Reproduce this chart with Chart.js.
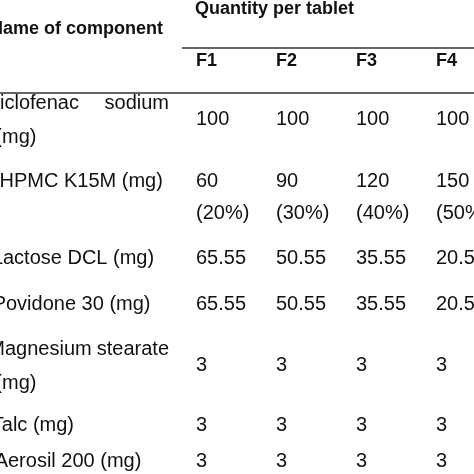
<!DOCTYPE html>
<html>
<head>
<meta charset="utf-8">
<script src="https://cdn.jsdelivr.net/npm/chart.js@4"></script>
<style>
  html, body { margin: 0; padding: 0; background: #fff; }
  #wrap { width: 474px; height: 474px; }
</style>
</head>
<body>
<div id="wrap"><canvas id="tbl"></canvas></div>
<script>
// table data
const formulations = ['F1', 'F2', 'F3', 'F4'];
const components = [
    ['Diclofenac sodium', '(mg)'],
    ['HPMC K15M (mg)'],
    ['Lactose DCL (mg)'],
    ['Povidone 30 (mg)'],
    ['Magnesium stearate', '(mg)'],
    ['Talc (mg)'],
    ['Aerosil 200 (mg)']
];
const F1 = ['100', ['60', '(20%)'], '65.55', '65.55', '3', '3', '3'];
const F2 = ['100', ['90', '(30%)'], '50.55', '50.55', '3', '3', '3'];
const F3 = ['100', ['120', '(40%)'], '35.55', '35.55', '3', '3', '3'];
const F4 = ['100', ['150', '(50%)'], '20.55', '20.55', '3', '3', '3'];

// layout (in 0..474 scale units)
const colX = [196, 276, 356, 436];
const rowY = [119, 197, 258, 304, 365, 425, 461];
const secondCharX = [0, 14, 3, 6, 5, 4, 8];

const tablePlugin = {
    id: 'tablePlugin',
    afterDraw(chart) {
        const c = chart.ctx, xs = chart.scales.x, ys = chart.scales.y;
        const X = v => xs.getPixelForValue(v), Y = v => ys.getPixelForValue(v);
        // place text so that its second character starts at x
        const cut = (t, x, y) => {
            c.textAlign = 'left';
            c.fillText(t, X(x) - c.measureText(t[0]).width, Y(y));
        };
        c.save();
        c.fillStyle = '#111';
        c.textBaseline = 'middle';
        c.textAlign = 'left';
        c.font = 'bold 18px "Liberation Sans", Arial, sans-serif';
        c.fillText('Quantity per tablet', X(195), Y(9));
        cut('Name of component', 3, 29);
        formulations.forEach((f, i) => c.fillText(f, X(colX[i]), Y(61)));

        c.strokeStyle = '#333';
        c.lineWidth = 1.3;
        c.beginPath();
        c.moveTo(X(182), Y(48)); c.lineTo(X(474), Y(48));
        c.moveTo(X(0), Y(93)); c.lineTo(X(474), Y(93));
        c.stroke();

        c.font = '20px "Liberation Sans", Arial, sans-serif';
        components.forEach((name, r) => {
            if (name.length === 2) {
                const words = name[0].split(' ');
                cut(words[0], secondCharX[r], rowY[r] - 16);
                c.textAlign = 'right';
                c.fillText(words[1], X(169), Y(rowY[r] - 16));
                cut(name[1], 2, rowY[r] + 18);
            } else {
                cut(name[0], secondCharX[r], r === 1 ? 181 : rowY[r]);
            }
        });
        c.textAlign = 'left';
        [F1, F2, F3, F4].forEach((col, i) => {
            col.forEach((v, r) => {
                if (Array.isArray(v)) {
                    c.fillText(v[0], X(colX[i]), Y(181));
                    c.fillText(v[1], X(colX[i]), Y(213));
                } else {
                    c.fillText(v, X(colX[i]), Y(rowY[r]));
                }
            });
        });
        c.restore();
    }
};

new Chart(document.getElementById('tbl').getContext('2d'), {
    type: 'scatter',
    data: { datasets: [{ data: [], pointRadius: 0 }] },
    options: {
        responsive: true,
        maintainAspectRatio: false,
        animation: false,
        layout: { padding: 0 },
        plugins: { legend: { display: false }, tooltip: { enabled: false } },
        scales: {
            x: { type: 'linear', min: 0, max: 474, display: false },
            y: { type: 'linear', min: 0, max: 474, reverse: true, display: false }
        }
    },
    plugins: [tablePlugin]
});
</script>
</body>
</html>
